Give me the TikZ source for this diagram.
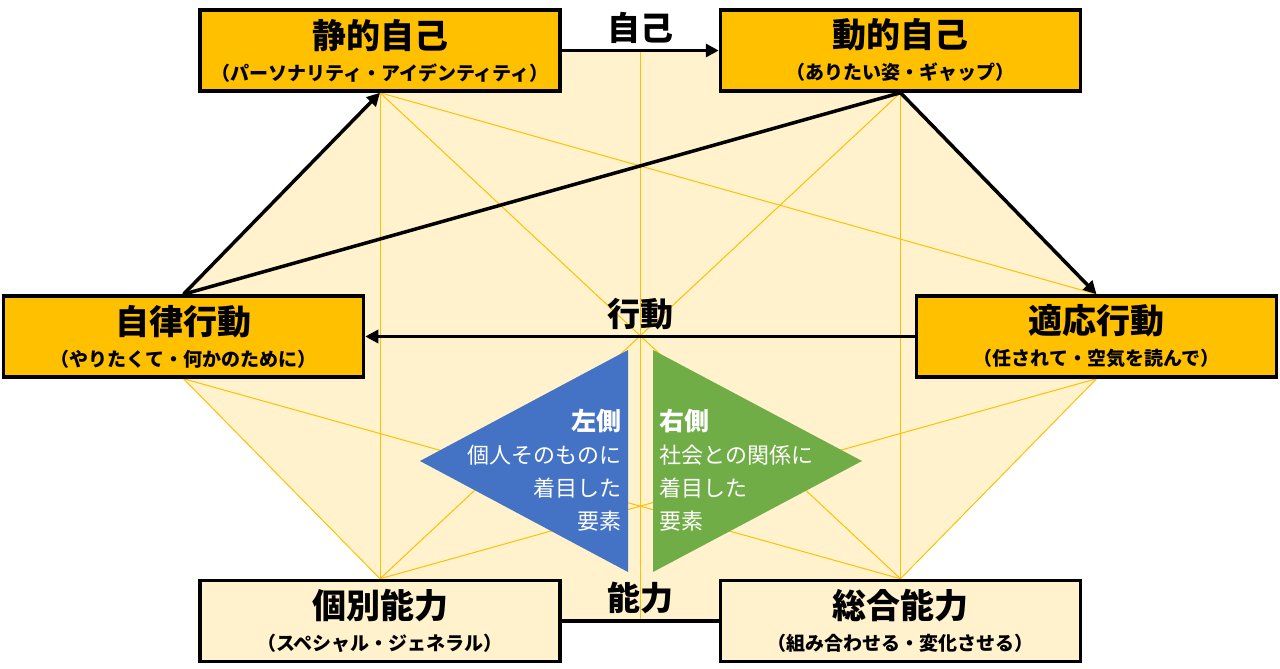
\documentclass[tikz,border=0pt]{standalone}
\usepackage{fontspec}
\setmainfont{Noto Sans CJK JP}
\usepackage{tikz}
\usetikzlibrary{arrows.meta, backgrounds, calc}

\newcommand{\boxtitle}[1]{{\fontsize{17}{16}\selectfont #1}}

\begin{document}
\begin{tikzpicture}[
  x=0.5pt, y=-0.5pt,
  box/.style={
    draw=black,
    line width=1.75pt,
    minimum width=180pt,
    minimum height=40.5pt,
    inner sep=0pt,
    align=center,
    font=\fontsize{9.5}{16}\selectfont\bfseries,
  },
  selfbox/.style={box, fill=gold},
  skillbox/.style={box, fill=cream},
  link/.style={line width=1.75pt},
  thin/.style={gold, line width=0.5pt},
  axis/.style={font=\fontsize{16.5}{16}\selectfont\bfseries, inner sep=2.5pt},
  side/.style={text=white, inner sep=0pt, font=\fontsize{11}{16.5}\selectfont},
  >={Triangle[length=6.5pt, width=6.5pt]},
]
  \definecolor{gold}{RGB}{255,192,0}
  \definecolor{cream}{RGB}{255,242,204}
  \definecolor{blueish}{RGB}{68,114,196}
  \definecolor{greenish}{RGB}{112,173,71}

  \useasboundingbox (0,0) rectangle (1280,669);

  \node[selfbox] (sjiko) at (380,50.5)
  {
    \boxtitle{静的自己}\\（パーソナリティ・アイデンティティ）
  };
  \node[selfbox] (djiko) at (900.5,50.5)
  {
    \boxtitle{動的自己}\\（ありたい姿・ギャップ）
  };
  \node[selfbox] (jiritsu) at (183.5,336.5)
  {
    \boxtitle{自律行動}\\（やりたくて・何かのために）
  };
  \node[selfbox] (tekiou) at (1096.5,336.5)
  {
    \boxtitle{適応行動}\\（任されて・空気を読んで）
  };
  \node[skillbox] (kobetsu) at (380,621)
  {
    \boxtitle{個別能力}\\（スペシャル・ジェネラル）
  };
  \node[skillbox] (sougou) at (900.5,621)
  {
    \boxtitle{総合能力}\\（組み合わせる・変化させる）
  };

  % hexagon, cross lines and the two halves
  \begin{scope}[on background layer]
    \fill[cream] (sjiko.center) -- (djiko.center) -- (djiko.south) -- (tekiou.north)
      -- (tekiou.south) -- (sougou.north) -- (sougou.center) -- (kobetsu.center)
      -- (kobetsu.north) -- (jiritsu.south) -- (jiritsu.north) -- (sjiko.south) -- cycle;
    \draw[thin] (sjiko.south) -- (kobetsu.north);
    \draw[thin] (djiko.south) -- (sougou.north);
    \draw[thin] (sjiko.south) -- (sougou.north);
    \draw[thin] (djiko.south) -- (kobetsu.north);
    \draw[thin] (sjiko.south) -- (tekiou.north);
    \draw[thin] (jiritsu.south) -- (sougou.north);
    \draw[thin] (tekiou.south) -- (kobetsu.north);
    \draw[thin] (jiritsu.south) -- (kobetsu.north);
    \draw[thin] (tekiou.south) -- (sougou.north);
    \draw[thin] ($(sjiko.east)!.5!(djiko.west)$) -- ($(kobetsu.east)!.5!(sougou.west)$);
    \fill[blueish] (628,350) -- (628,572) -- (420,461) -- cycle;
    \fill[greenish] (653,350) -- (653,572) -- (862,461) -- cycle;
  \end{scope}

  \node[side, align=right, anchor=east] (left) at (622,470)
  {
    {\fontsize{12.5}{16.5}\selectfont\bfseries 左側}\\個人そのものに\\着目した\\要素
  };
  \node[side, align=left, anchor=west] (right) at (659,470)
  {
    {\fontsize{12.5}{16.5}\selectfont\bfseries 右側}\\社会との関係に\\着目した\\要素
  };

  \draw[link, ->] (sjiko.east) -- node[axis, above] {自己} (djiko.west);
  \draw[link, ->] (djiko.south) -- (tekiou.north);
  \draw[link, ->] (tekiou.west) -- node[axis, above=0pt] {行動} (jiritsu.east);
  \draw[link, ->] (jiritsu.north) -- (sjiko.south);
  \draw[link] (jiritsu.north) -- (djiko.south);
  \draw[link] (kobetsu.east) -- node[axis, above=0pt] {能力} (sougou.west);
\end{tikzpicture}
\end{document}
